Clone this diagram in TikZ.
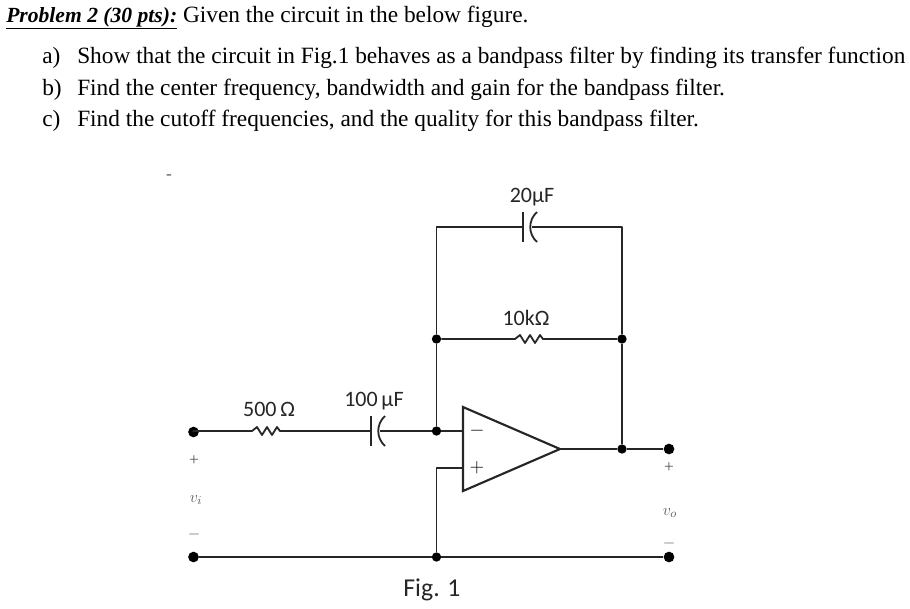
\documentclass[tikz,border=0pt]{standalone}
\usepackage{fontspec}
\setmainfont{Liberation Serif}
\newfontfamily\labelfont{Carlito}
\tikzset{
  x=0.75pt,y=-0.75pt,
  wire/.style={line width=1.35pt,black!85,line join=round},
  body/.style={font=\fontsize{17.5}{20}\selectfont,anchor=base west,inner sep=0pt},
  val/.style={font=\labelfont\fontsize{16.5}{18}\selectfont,inner sep=0pt,text=black!85},
  faint/.style={font=\fontsize{13}{15}\selectfont,inner sep=0pt,text=black!65},
  dotn/.style={circle,fill=black,inner sep=0pt,minimum size=8pt},
  jun/.style={circle,fill=black,inner sep=0pt,minimum size=7pt},
  opampbox/.style={line width=1.6pt,black!85,line join=miter}
}
\newcommand{\zigzag}{-- ++(5,-4) -- ++(5,8) -- ++(5,-8) -- ++(5,8) -- ++(5,-8) -- ++(3,4)}
\begin{document}
\begin{tikzpicture}
\useasboundingbox (0,0) rectangle (910,608);
% text
\node[body] (title) at (6,22) {\underline{\fontsize{16.2}{18}\selectfont\textbf{\textit{Problem 2 (30 pts):}}} Given the circuit in the below figure.};
\node[body] (la) at (42,63) {a)};
\node[body] (ta) at (77,63) {Show that the circuit in Fig.1 behaves as a bandpass filter by finding its transfer function};
\node[body] (lb) at (42,95) {b)};
\node[body] (tb) at (77,95) {Find the center frequency, bandwidth and gain for the bandpass filter.};
\node[body] (lc) at (42,126) {c)};
\node[body] (tc) at (77,126) {Find the cutoff frequencies, and the quality for this bandpass filter.};
\node[faint] (stray) at (169,177) {-};
% junctions and terminals
\node[dotn] (vip) at (193.5,432) {};
\node[dotn] (vin) at (193.5,557) {};
\node[jun] (inv) at (436.5,431) {};
\node[jun] (gnd) at (436.5,557) {};
\node[jun] (fbl) at (436.5,339) {};
\node[jun] (fbr) at (622,339) {};
\node[jun] (outj) at (622,449) {};
\node[dotn] (vop) at (669,449) {};
\node[dotn] (von) at (669,557) {};
\coordinate (tl) at (436.5,227);
\coordinate (tr) at (622,227);
\coordinate (a1) at (463,407);
\coordinate (a2) at (463,491);
\coordinate (tip) at (560,449);
\coordinate (im) at (463,431);
\coordinate (ip) at (463,468);
\coordinate (ipc) at (436.5,468);
% op amp
\draw[opampbox] (a1) -- (tip) -- (a2) -- cycle;
\node[font=\fontsize{15}{16}\selectfont,inner sep=0pt] (om) at (477,431) {$-$};
\node[font=\fontsize{15}{16}\selectfont,inner sep=0pt] (op) at (477,468) {$+$};
% input branch
\coordinate (r1a) at (252,431);
\coordinate (c1a) at (371,431);
\coordinate (c1b) at (380,431);
\draw[wire] (vip.center) -- (193.5,431) -- (r1a) \zigzag -- (c1a);
\draw[wire] (371,416) -- (371,446);
\draw[wire] (385,416) .. controls (376,424) and (376,438) .. (385,446);
\draw[wire] (c1b) -- (inv);
% inverting / non inverting
\draw[wire] (inv) -- (im);
\draw[wire] (ip) -- (ipc) -- (gnd);
\draw[wire] (vin) -- (gnd) -- (von);
\draw[wire] (tip) -- (outj) -- (vop);
% feedback
\coordinate (c2a) at (523,227);
\coordinate (c2b) at (532,227);
\coordinate (r2a) at (515,339);
\draw[wire] (inv) -- (fbl) -- (tl) -- (c2a);
\draw[wire] (523,212) -- (523,242);
\draw[wire] (537,212) .. controls (528,220) and (528,234) .. (537,242);
\draw[wire] (c2b) -- (tr) -- (fbr) -- (outj);
\draw[wire] (fbl) -- (r2a) \zigzag -- (fbr);
% labels
\node[val] (v20) at (532,197) {20µF};
\node[val] (v10) at (526,318) {10kΩ};
\node[val] (v500) at (269,409) {500\,Ω};
\node[val] (v100) at (374,401) {100\,µF};
\node[font=\labelfont\fontsize{19.3}{22}\selectfont,inner sep=0pt,text=black!85] (fig) at (432,590) {Fig. 1};
\node[faint] (ip1) at (194,461) {+};
\node[faint] (vi) at (196,500) {$v_i$};
\node[faint] (im1) at (194,534) {$-$};
\node[faint] (op1) at (669,468) {+};
\node[faint] (vo) at (670,513) {$v_o$};
\node[faint] (om1) at (669,543) {$-$};
\end{tikzpicture}
\end{document}
